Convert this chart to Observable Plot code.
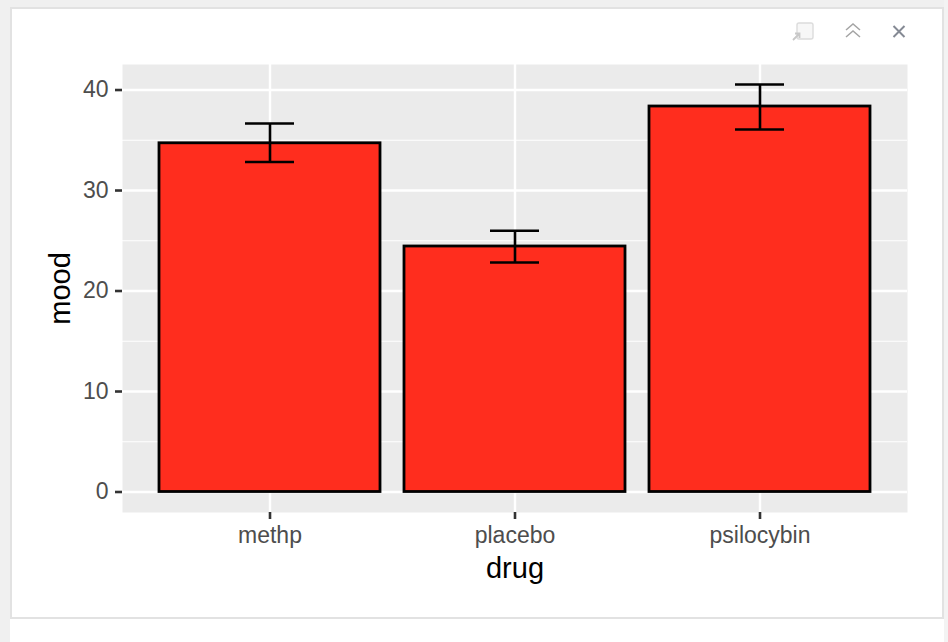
<!DOCTYPE html>
<html>
<head>
<meta charset="utf-8">
<script src="https://cdn.jsdelivr.net/npm/d3@7"></script>
<script src="https://cdn.jsdelivr.net/npm/@observablehq/plot@0.6"></script>
<style>
html,body{margin:0;padding:0;background:#fff;width:948px;height:642px;overflow:hidden}
#strip-left{position:absolute;left:0;top:0;width:10px;height:642px;background:#f0f0f0}
#strip-top{position:absolute;left:0;top:0;width:948px;height:7px;background:#f0f0f0}
#card{position:absolute;left:10px;top:7px;width:934px;height:612px;box-sizing:border-box;background:#fff;border:2px solid #e2e2e2}
#strip-right{position:absolute;left:944px;top:0;width:4px;height:642px;background:#f3f3f3}
#chart{position:absolute;left:11.5px;top:8.500px}
#chart svg{display:block;background:transparent}
#icons{position:absolute;left:785px;top:18px}
</style>
</head>
<body>
<div id="strip-top"></div><div id="strip-left"></div><div id="strip-right"></div>
<div id="card"></div>
<div id="chart"></div>
<svg id="icons" width="130" height="28" viewBox="0 0 130 28">
  <rect x="12" y="5" width="16" height="16" rx="2" fill="#f7f7f7" stroke="#dcdcdc" stroke-width="1.4"/>
  <path d="M8 22l6-6M10 15.500h4.500v4.500" fill="none" stroke="#c8c8c8" stroke-width="1.800"/>
  <path d="M61 12l7-6 7 6M61 19l7-6 7 6" fill="none" stroke="#a4a4a4" stroke-width="1.500"/>
  <path d="M108.500 8l11 11M119.500 8l-11 11" fill="none" stroke="#858a94" stroke-width="2"/>
</svg>
<script>
const drugs = ["methp", "placebo", "psilocybin"];
const means = [34.7, 24.43, 38.36];
const upper = [36.67, 26.0, 40.55];
const lower = [32.84, 22.84, 36.07];
const majorTicks = [0, 10, 20, 30, 40];
const minorTicks = [5, 15, 25, 35];
const rows = drugs.map((drug, i) => ({drug, mean: means[i], upper: upper[i], lower: lower[i]}));
const font = "'Liberation Sans', Arial, sans-serif";

const plot = Plot.plot({
  width: 932,
  height: 608,
  marginLeft: 110,
  marginRight: 37,
  marginTop: 55,
  marginBottom: 105,
  style: {fontFamily: font, background: "transparent", overflow: "visible"},
  x: {domain: drugs, paddingInner: 0.1, paddingOuter: 0.15, label: null},
  y: {domain: [-2.04, 42.54], label: null},
  marks: [
    Plot.frame({fill: "#ebebeb", stroke: null}),
    Plot.gridY(minorTicks, {stroke: "#fff", strokeOpacity: 1, strokeWidth: 1.2}),
    Plot.gridY(majorTicks, {stroke: "#fff", strokeOpacity: 1, strokeWidth: 2.4}),
    Plot.gridX(drugs, {stroke: "#fff", strokeOpacity: 1, strokeWidth: 2.4}),
    Plot.barY(rows, {x: "drug", y: "mean", fill: "#ff2d1e", stroke: "#000", strokeWidth: 2.8}),
    Plot.ruleX(rows, {x: "drug", y1: "lower", y2: "upper", stroke: "#000", strokeWidth: 2.6}),
    Plot.tickY(rows, {x: "drug", y: "upper", stroke: "#000", strokeWidth: 2.6, insetLeft: 86, insetRight: 86}),
    Plot.tickY(rows, {x: "drug", y: "lower", stroke: "#000", strokeWidth: 2.6, insetLeft: 86, insetRight: 86}),
    Plot.axisY(majorTicks, {anchor: "left", tickSize: 7, tickPadding: 7, stroke: "#333", strokeWidth: 2.6, fill: "#4d4d4d", fontSize: 23, label: null}),
    Plot.axisX(drugs, {anchor: "bottom", tickSize: 7, tickPadding: 7, stroke: "#333", strokeWidth: 2.6, fill: "#4d4d4d", fontSize: 23, label: null}),
    Plot.text(["mood"], {frameAnchor: "left", textAnchor: "middle", rotate: -90, dx: -62, fill: "#000", fontSize: 29}),
    Plot.text(["drug"], {frameAnchor: "bottom", dy: 65.5, fill: "#000", fontSize: 29})
  ]
});
document.getElementById("chart").appendChild(plot);
</script>
</body>
</html>
